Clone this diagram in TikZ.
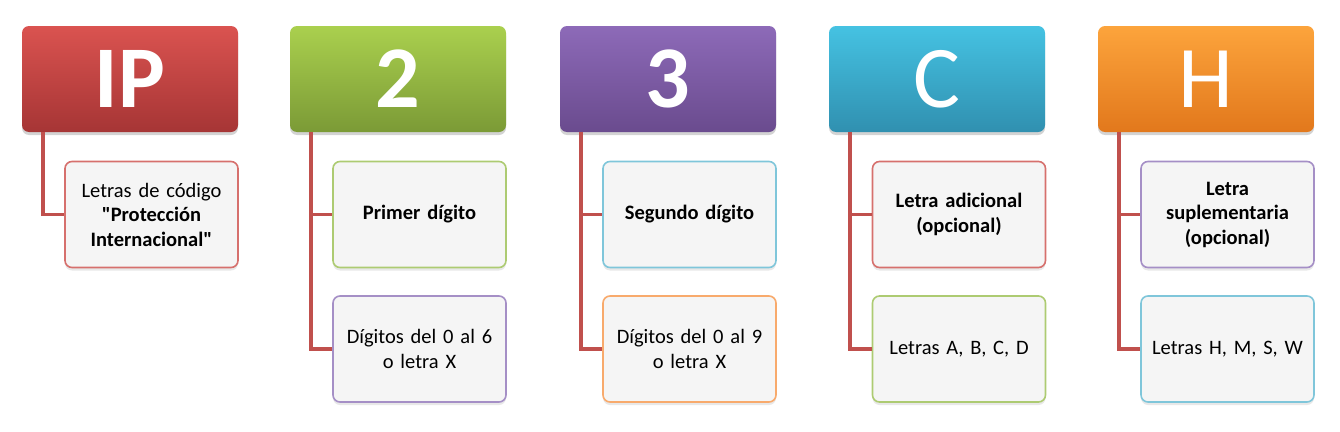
\documentclass[tikz,border=0pt]{standalone}
\usepackage{fontspec}
\setmainfont[WordSpace=0.7]{Carlito}
\usetikzlibrary{shadows}
\definecolor{redT}{HTML}{DA5350}\definecolor{redB}{HTML}{A63535}
\definecolor{grnT}{HTML}{AAD04E}\definecolor{grnB}{HTML}{7B9A36}
\definecolor{purT}{HTML}{8D6AB8}\definecolor{purB}{HTML}{6A4B8E}
\definecolor{teaT}{HTML}{45C2E2}\definecolor{teaB}{HTML}{3090B0}
\definecolor{orgT}{HTML}{FCA43C}\definecolor{orgB}{HTML}{E2781C}
\definecolor{redE}{HTML}{D6706D}
\definecolor{grnE}{HTML}{ADCB72}
\definecolor{purE}{HTML}{A58FC6}
\definecolor{teaE}{HTML}{7FC6DA}
\definecolor{orgE}{HTML}{F8AA6C}
\definecolor{lineC}{HTML}{C0504D}
\definecolor{boxF}{HTML}{F5F5F5}
\tikzset{
  hdr/.style={rounded corners=7pt, minimum width=216pt, minimum height=106pt,
    text=white, inner sep=0pt,
    drop shadow={shadow xshift=0pt, shadow yshift=-3pt, opacity=0.35}},
  hdrbold/.style={hdr, font=\fontsize{88}{88}\selectfont\bfseries},
  hdrreg/.style={hdr, font=\fontsize{88}{88}\selectfont},
  child/.style={rounded corners=7pt, minimum width=173pt, minimum height=106pt,
    fill=boxF, line width=1.6pt, align=center, text width=168pt, inner sep=0pt,
    font=\fontsize{20.5}{24.5}\selectfont,
    drop shadow={shadow xshift=0pt, shadow yshift=-3pt, opacity=0.18}},
  conn/.style={draw=lineC, line width=3.5pt}
}
\begin{document}
\begin{tikzpicture}[x=1pt,y=-1pt]
\useasboundingbox (0,0) rectangle (1340,431);
% headers
\node[hdrbold, top color=redT, bottom color=redB] (hIP) at (130,79) {IP};
\node[hdrbold, top color=grnT, bottom color=grnB] (h2) at (398,79) {2};
\node[hdrbold, top color=purT, bottom color=purB] (h3) at (668,79) {3};
\node[hdrreg, top color=teaT, bottom color=teaB] (hC) at (937,79) {C};
\node[hdrreg, top color=orgT, bottom color=orgB] (hH) at (1206,79) {H};
% children
\node[child, draw=redE] (cIPa) at (151.5,214.5) {Letras de código\\\textbf{\textquotedbl Protección}\\\textbf{Internacional\textquotedbl}};
\node[child, draw=grnE] (c2a) at (419.5,214.5) {\textbf{Primer dígito}};
\node[child, draw=purE] (c2b) at (419.5,349) {Dígitos del 0 al 6\\o letra X};
\node[child, draw=teaE] (c3a) at (689.5,214.5) {\textbf{Segundo dígito}};
\node[child, draw=orgE] (c3b) at (689.5,349) {Dígitos del 0 al 9\\o letra X};
\node[child, draw=redE] (cCa) at (959,214.5) {\textbf{Letra adicional}\\\textbf{(opcional)}};
\node[child, draw=grnE] (cCb) at (959,349) {Letras A, B, C, D};
\node[child, draw=purE] (cHa) at (1227.5,214.5) {\textbf{Letra}\\\textbf{suplementaria}\\\textbf{(opcional)}};
\node[child, draw=teaE] (cHb) at (1227.5,349) {Letras H, M, S, W};
% connector tops
\coordinate (tIP) at ([xshift=21pt]hIP.south west);
\coordinate (t2) at ([xshift=21pt]h2.south west);
\coordinate (t3) at ([xshift=21pt]h3.south west);
\coordinate (tC) at ([xshift=21pt]hC.south west);
\coordinate (tH) at ([xshift=21pt]hH.south west);
\draw[conn] (tIP) |- (cIPa.west);
\draw[conn] (t2) |- (c2a.west);
\draw[conn] (t2) |- (c2b.west);
\draw[conn] (t3) |- (c3a.west);
\draw[conn] (t3) |- (c3b.west);
\draw[conn] (tC) |- (cCa.west);
\draw[conn] (tC) |- (cCb.west);
\draw[conn] (tH) |- (cHa.west);
\draw[conn] (tH) |- (cHb.west);
\end{tikzpicture}
\end{document}
